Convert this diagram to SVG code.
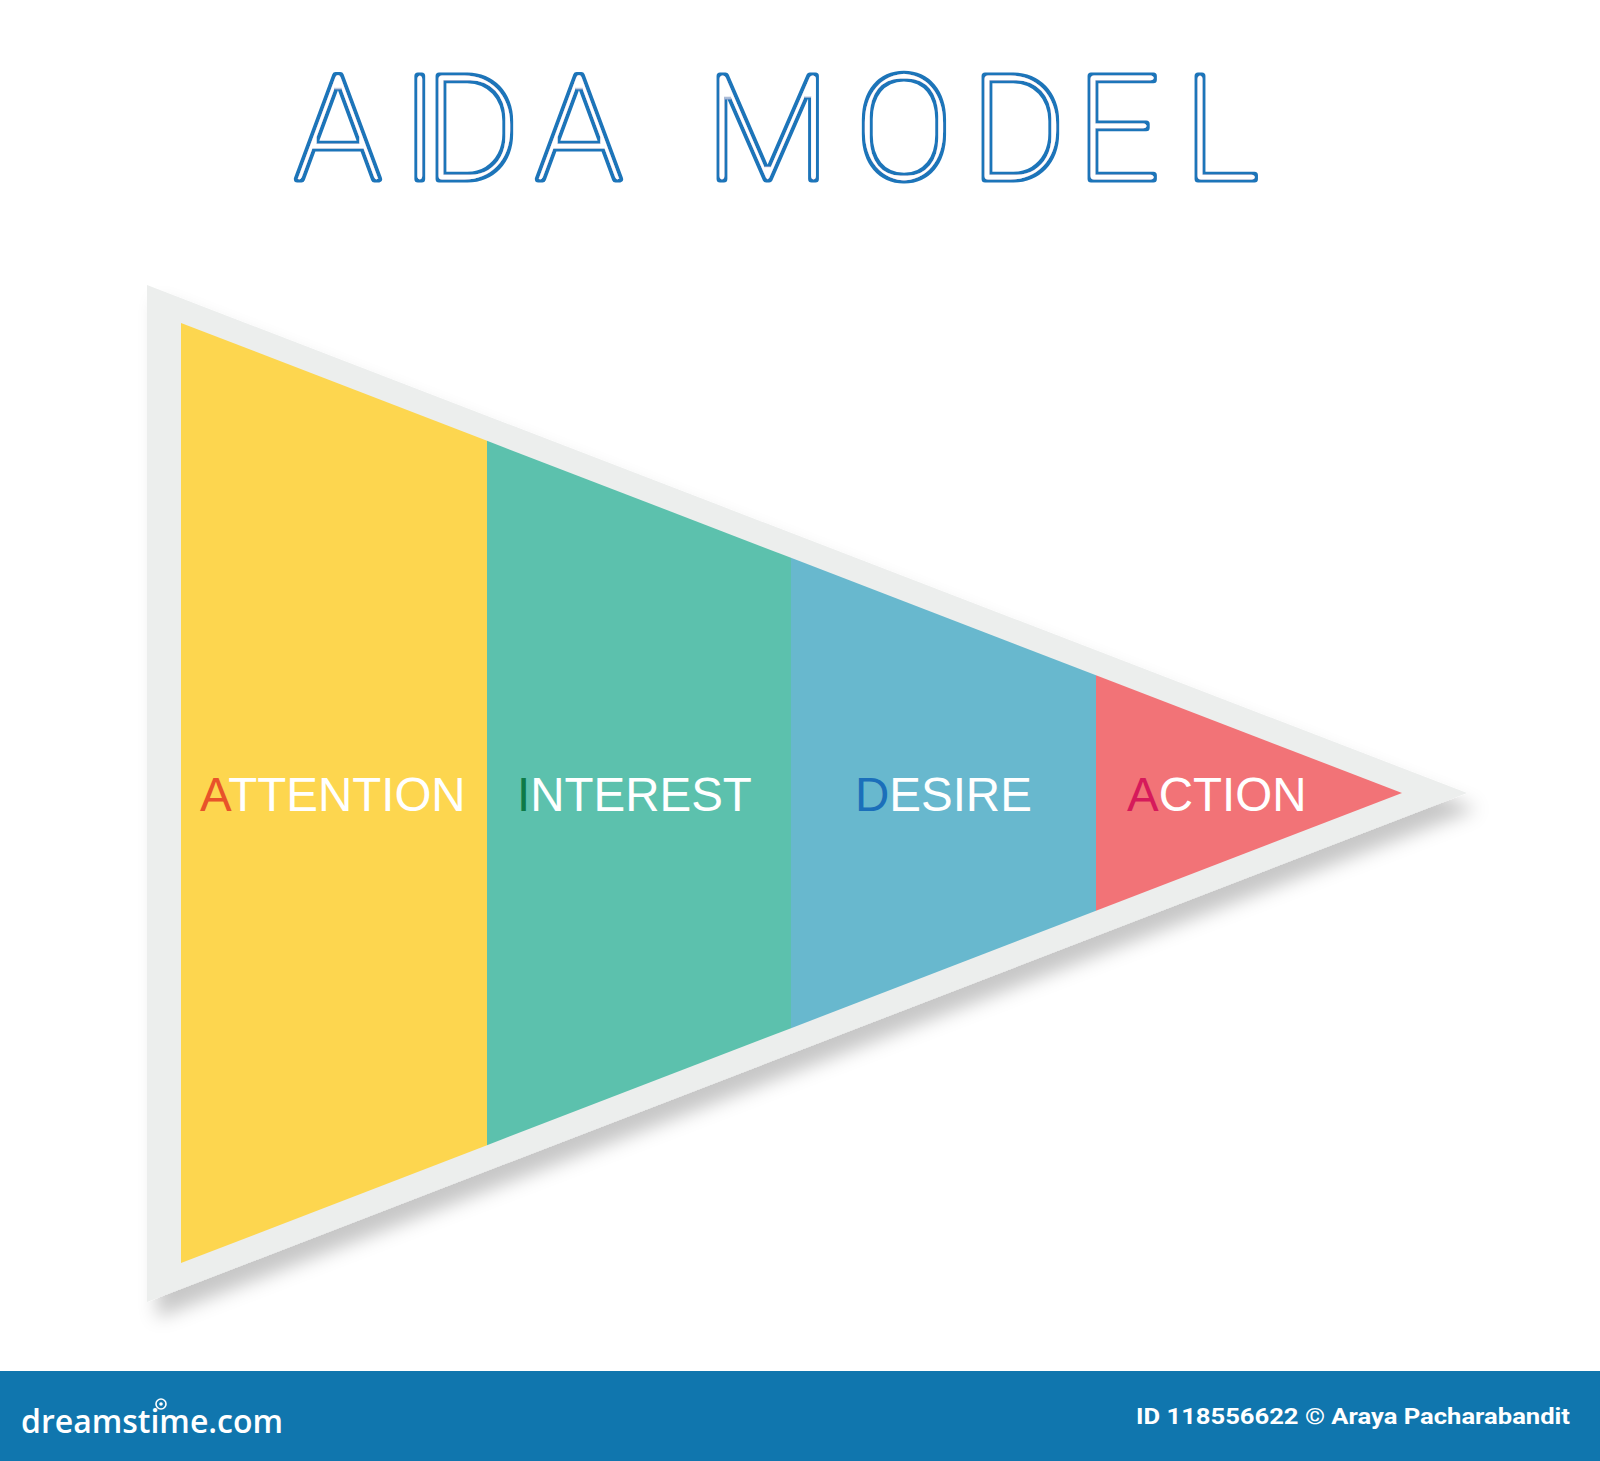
<svg xmlns="http://www.w3.org/2000/svg" width="1600" height="1461" viewBox="0 0 1600 1461">
  <defs>
    <filter id="shadow" x="-10%" y="-10%" width="130%" height="130%">
      <feDropShadow dx="10" dy="16" stdDeviation="9" flood-color="#000" flood-opacity="0.22"/>
    </filter>
    <filter id="tube" filterUnits="userSpaceOnUse" x="240" y="30" width="1100" height="200">
      <feMorphology in="SourceAlpha" operator="erode" radius="2.6" result="core"/>
      <feFlood flood-color="#ffffff"/>
      <feComposite in2="core" operator="in" result="white"/>
      <feMerge>
        <feMergeNode in="SourceGraphic"/>
        <feMergeNode in="white"/>
      </feMerge>
    </filter>
    <style>
      .lbl{font-family:"Liberation Sans",Arial,sans-serif;font-size:47.5px;fill:#ffffff;}
      .title{font-family:Roboto,"Liberation Sans",sans-serif;font-weight:100;font-size:144px;fill:#1F74B9;stroke:#1F74B9;stroke-width:7;stroke-linejoin:round;stroke-linecap:round;}
    </style>
  </defs>
  <rect x="0" y="0" width="1600" height="1461" fill="#ffffff"/>

  <g id="title">
    <text class="title" filter="url(#tube)" x="295 401 425 536 640 706 856 971 1077 1184" y="179">AIDA MODEL</text>
  </g>

  <g id="frame">
    <polygon points="147,285 1467,793 147,1302" fill="#ECEEED" filter="url(#shadow)"/>
  </g>

  <g id="attention">
    <polygon points="181,323 487,440.8 487,1145.2 181,1263" fill="#FDD64F"/>
    <text class="lbl" x="200" y="811"><tspan fill="#E8532A">A</tspan>TTENTION</text>
  </g>
  <g id="interest">
    <polygon points="487,440.8 791,557.8 791,1028.2 487,1145.2" fill="#5CC1AD"/>
    <text class="lbl" x="517" y="811"><tspan fill="#0E7A47">I</tspan>NTEREST</text>
  </g>
  <g id="desire">
    <polygon points="791,557.8 1096,675.2 1096,910.8 791,1028.2" fill="#68B8CE"/>
    <text class="lbl" x="855" y="811"><tspan fill="#1B6FBA">D</tspan>ESIRE</text>
  </g>
  <g id="action">
    <polygon points="1096,675.2 1402,793 1096,910.8" fill="#F27377"/>
    <text class="lbl" x="1127" y="811"><tspan fill="#D61A5B">A</tspan>CTION</text>
  </g>

  <g id="connectors"></g>

  <g id="footer">
    <rect x="0" y="1371" width="1600" height="90" fill="#1076AE"/>
    <text x="21" y="1433" font-family="'Open Sans','Noto Sans',sans-serif" font-weight="600" font-size="33" fill="#ffffff" textLength="262" lengthAdjust="spacingAndGlyphs">dreamstime.com</text>
    <circle cx="161" cy="1404" r="5" fill="none" stroke="#ffffff" stroke-width="1.6"/>
    <circle cx="161" cy="1404" r="1.8" fill="#ffffff"/>
    <text x="1136" y="1424" font-family="Roboto,'Liberation Sans',sans-serif" font-weight="700" font-size="22" fill="#ffffff" textLength="434" lengthAdjust="spacingAndGlyphs">ID 118556622 © Araya Pacharabandit</text>
  </g>
</svg>
